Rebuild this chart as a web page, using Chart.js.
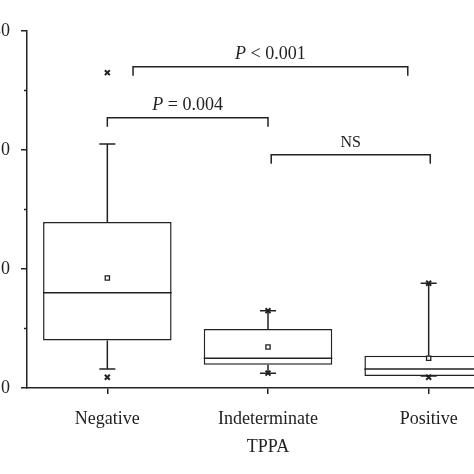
<!DOCTYPE html>
<html>
<head>
<meta charset="utf-8">
<script src="https://cdn.jsdelivr.net/npm/chart.js@4.4.1/dist/chart.umd.min.js"></script>
<style>
  html, body { margin: 0; padding: 0; background: #fff; overflow: hidden; }
  #wrap { position: relative; width: 474px; height: 474px; overflow: hidden; }
  #boxes { position: absolute; left: -30px; top: 0; }
</style>
</head>
<body>
<div id="wrap"><canvas id="boxes" width="570" height="474"></canvas></div>
<script>
// TPPA groups
const categories = ['Negative', 'Indeterminate', 'Positive'];
const q1 = [4.0, 1.95, 1.0];
const q3 = [13.95, 4.95, 2.7];
const median = [8.0, 2.5, 1.6];
const mean = [9.25, 3.45, 2.5];
const whiskerLow = [1.6, 1.25, 1.0];
const whiskerHigh = [20.5, 6.5, 8.8];
const minMark = [0.9, 1.25, 0.9];
const maxMark = [26.5, 6.5, 8.8];

const yTicks = [0, 10, 20, 30];

// significance brackets (category index from/to, y value)
const bracketText = ['P = 0.004', 'P < 0.001', 'NS'];
const bracketFrom = [0, 0.16, 1.02];
const bracketTo = [1, 1.87, 2.01];
const bracketY = [22.7, 27.0, 19.6];

const ink = '#222';
const serif = '"Liberation Serif", "DejaVu Serif", serif';

const markPoints = [];
categories.forEach((c, i) => {
  markPoints.push({x: c, y: minMark[i]});
  markPoints.push({x: c, y: maxMark[i]});
});

const boxExtras = {
  id: 'boxExtras',
  afterDatasetsDraw(chart) {
    const ctx = chart.ctx;
    const x = chart.scales.x, y = chart.scales.y;
    const bars = chart.getDatasetMeta(0).data;
    ctx.save();
    ctx.strokeStyle = ink;
    ctx.lineWidth = 1.5;
    bars.forEach((bar, i) => {
      const cx = bar.x, half = bar.width / 2;
      // median
      const my = y.getPixelForValue(median[i]);
      ctx.beginPath();
      ctx.moveTo(cx - half, my); ctx.lineTo(cx + half, my);
      // whiskers
      const t = y.getPixelForValue(q3[i]), hi = y.getPixelForValue(whiskerHigh[i]);
      const b = y.getPixelForValue(q1[i]), lo = y.getPixelForValue(whiskerLow[i]);
      ctx.moveTo(cx, t); ctx.lineTo(cx, hi);
      ctx.moveTo(cx - 8, hi); ctx.lineTo(cx + 8, hi);
      ctx.moveTo(cx, b); ctx.lineTo(cx, lo);
      ctx.moveTo(cx - 8, lo); ctx.lineTo(cx + 8, lo);
      ctx.stroke();
    });
    // minor ticks on y axis
    ctx.beginPath();
    for (let v = 5; v < 30; v += 10) {
      const py = y.getPixelForValue(v);
      ctx.moveTo(x.left - 3, py); ctx.lineTo(x.left, py);
    }
    ctx.stroke();
    // brackets
    ctx.fillStyle = ink;
    ctx.textBaseline = 'alphabetic';
    bracketText.forEach((txt, i) => {
      const x1 = x.getPixelForValue(bracketFrom[i]);
      const x2 = x.getPixelForValue(bracketTo[i]);
      const by = y.getPixelForValue(bracketY[i]);
      ctx.beginPath();
      ctx.moveTo(x1, by + 9); ctx.lineTo(x1, by); ctx.lineTo(x2, by); ctx.lineTo(x2, by + 9);
      ctx.stroke();
      const mid = (x1 + x2) / 2, ty = by - 8;
      if (txt.startsWith('P')) {
        const rest = txt.slice(1);
        ctx.font = 'italic 18px ' + serif;
        const wP = ctx.measureText('P').width;
        ctx.font = '18px ' + serif;
        const wR = ctx.measureText(rest).width;
        const start = mid - (wP + wR) / 2;
        ctx.textAlign = 'left';
        ctx.font = 'italic 18px ' + serif;
        ctx.fillText('P', start, ty);
        ctx.font = '18px ' + serif;
        ctx.fillText(rest, start + wP, ty);
      } else {
        ctx.font = '16px ' + serif;
        ctx.textAlign = 'center';
        ctx.fillText(txt, mid, ty);
      }
    });
    ctx.restore();
  }
};

new Chart(document.getElementById('boxes'), {
  type: 'bar',
  data: {
    labels: categories,
    datasets: [
      {
        type: 'bar',
        data: categories.map((c, i) => [q1[i], q3[i]]),
        backgroundColor: '#fff',
        borderColor: ink,
        borderWidth: 1.5,
        borderSkipped: false,
        barPercentage: 0.8,
        categoryPercentage: 1.0,
        order: 3
      },
      {
        type: 'line',
        data: mean,
        showLine: false,
        pointStyle: 'rect',
        pointRadius: 3,
        pointBorderWidth: 1.3,
        pointBorderColor: ink,
        pointBackgroundColor: '#fff',
        order: 1
      },
      {
        type: 'line',
        data: markPoints,
        showLine: false,
        pointStyle: 'crossRot',
        pointRadius: 3.5,
        pointBorderWidth: 2,
        pointBorderColor: ink,
        order: 2
      }
    ]
  },
  options: {
    responsive: false,
    animation: false,
    devicePixelRatio: 1,
    layout: { padding: { top: 31, right: 31, left: 0, bottom: 0 } },
    plugins: { legend: { display: false }, tooltip: { enabled: false } },
    scales: {
      x: {
        offset: true,
        grid: { display: true, drawOnChartArea: false, offset: false, tickLength: 6, color: ink, lineWidth: 1.5 },
        border: { display: true, color: ink, width: 1.5 },
        ticks: { color: ink, font: { family: serif, size: 18 }, padding: 14 },
        title: { display: true, text: 'TPPA', color: ink, font: { family: serif, size: 18 }, padding: { top: 0, bottom: 16 } },
        afterFit(s) { s.height = 86; }
      },
      y: {
        min: 0,
        max: 30,
        afterBuildTicks(s) { s.ticks = yTicks.map(v => ({ value: v })); },
        grid: { display: true, drawOnChartArea: false, tickLength: 6, color: ink, lineWidth: 1.5 },
        border: { display: true, color: ink, width: 1.5 },
        ticks: { color: ink, font: { family: serif, size: 18 }, padding: 11 },
        afterFit(s) { s.width = 57; }
      }
    }
  },
  plugins: [boxExtras]
});
</script>
</body>
</html>
